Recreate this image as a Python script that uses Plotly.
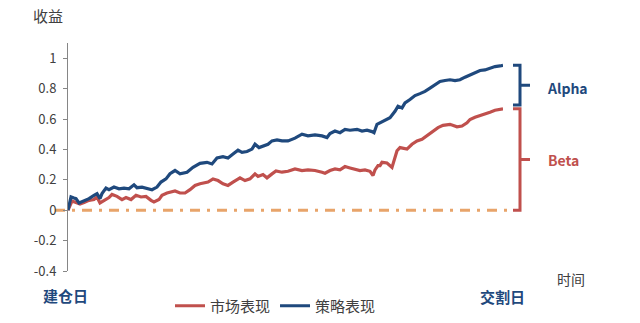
import plotly.graph_objects as go

# ---- data (day index, cumulative return) ----
strategy_days = [0, 1, 3, 6, 8, 11, 14, 16, 21, 26, 29, 32, 34, 38, 41, 46, 51, 56, 61, 66, 69, 74, 79, 84, 89, 93,
                 98, 102, 107, 112, 119, 125, 132, 139, 144, 149, 155, 160, 165, 170, 174, 179, 184, 187, 191, 195,
                 200, 204, 209, 214, 220, 227, 234, 240, 247, 254, 259, 262, 267, 272, 277, 282, 289, 294, 299,
                 304, 306, 309, 312, 317, 322, 327, 330, 334, 337, 342, 347, 352, 357, 362, 367, 372, 377, 382,
                 387, 392, 397, 402, 407, 412, 417, 422, 427, 432, 435]
strategy = [0.0, 0.03, 0.087, 0.08, 0.076, 0.048, 0.055, 0.06, 0.076, 0.098, 0.109, 0.076, 0.109, 0.145, 0.135,
            0.152, 0.141, 0.145, 0.141, 0.167, 0.148, 0.152, 0.145, 0.135, 0.152, 0.185, 0.206, 0.24, 0.261, 0.239,
            0.25, 0.282, 0.308, 0.315, 0.304, 0.343, 0.352, 0.343, 0.369, 0.395, 0.38, 0.386, 0.402, 0.434, 0.412,
            0.423, 0.434, 0.456, 0.462, 0.456, 0.456, 0.474, 0.5, 0.489, 0.495, 0.489, 0.478, 0.504, 0.521, 0.51,
            0.532, 0.526, 0.532, 0.521, 0.526, 0.517, 0.51, 0.565, 0.575, 0.588, 0.608, 0.651, 0.684, 0.673,
            0.706, 0.728, 0.754, 0.767, 0.782, 0.803, 0.825, 0.847, 0.853, 0.858, 0.853, 0.858, 0.875, 0.891,
            0.906, 0.919, 0.923, 0.934, 0.945, 0.949, 0.953]

market_days = [0, 2, 4, 8, 12, 16, 21, 26, 29, 32, 36, 41, 44, 49, 54, 58, 63, 68, 73, 78, 83, 86, 91, 94, 99,
               102, 107, 112, 117, 122, 127, 132, 137, 140, 145, 150, 155, 160, 165, 172, 177, 182, 187, 190,
               195, 199, 204, 208, 214, 220, 227, 234, 240, 247, 254, 257, 262, 267, 272, 277, 282, 287, 292,
               297, 302, 305, 307, 310, 312, 314, 319, 324, 327, 329, 332, 339, 344, 349, 354, 359, 365, 370,
               375, 382, 389, 394, 399, 402, 407, 412, 417, 422, 427, 432, 435]
market = [0.0, 0.03, 0.06, 0.05, 0.04, 0.05, 0.065, 0.07, 0.087, 0.048, 0.065, 0.083, 0.104, 0.091, 0.07, 0.083,
          0.07, 0.098, 0.087, 0.091, 0.065, 0.054, 0.07, 0.098, 0.113, 0.119, 0.126, 0.113, 0.113, 0.135, 0.163,
          0.174, 0.178, 0.185, 0.206, 0.195, 0.174, 0.163, 0.185, 0.213, 0.195, 0.206, 0.239, 0.222, 0.235, 0.213,
          0.239, 0.258, 0.25, 0.256, 0.271, 0.261, 0.265, 0.261, 0.25, 0.243, 0.261, 0.271, 0.265, 0.287, 0.278,
          0.271, 0.261, 0.265, 0.256, 0.228, 0.265, 0.293, 0.293, 0.315, 0.311, 0.282, 0.358, 0.391, 0.412, 0.402,
          0.434, 0.456, 0.467, 0.489, 0.521, 0.543, 0.558, 0.565, 0.549, 0.554, 0.575, 0.597, 0.612, 0.623, 0.63,
          0.645, 0.658, 0.662, 0.667]

y_ticks = [-0.4, -0.2, 0, 0.2, 0.4, 0.6, 0.8, 1]
y_tick_labels = ["-0.4", "-0.2", "0", "0.2", "0.4", "0.6", "0.8", "1"]

series_names = ["市场表现", "策略表现"]
y_title = "收益"
x_title = "时间"
start_label = "建仓日"
end_label = "交割日"

# ---- styling ----
BLUE = "#1F497D"
RED = "#C0504D"
ORANGE = "#E8A46A"
TXT = "#404040"
FONT = "Noto Sans CJK SC"

W, H = 640, 323
ML, MR, MT, MB = 68, 137, 43, 52
PW = W - ML - MR
PH = H - MT - MB


def px_x(p):
    return (p - ML) / PW


def px_y(p):
    return (H - MB - p) / PH


fig = go.Figure()
fig.add_trace(go.Scatter(x=market_days, y=market, mode="lines", name=series_names[0],
                         line=dict(color=RED, width=3.2)))
fig.add_trace(go.Scatter(x=strategy_days, y=strategy, mode="lines", name=series_names[1],
                         line=dict(color=BLUE, width=3.2)))

# zero baseline (dash-dot)
fig.add_shape(type="line", xref="paper", yref="y", x0=px_x(55), x1=px_x(510), y0=0, y1=0,
              line=dict(color=ORANGE, width=3, dash="10px,7px,3px,7px"), layer="below")

s_end = strategy[-1]
m_end = market[-1]
gap = 0.025
bx0, bx1, bx2 = px_x(513), px_x(520), px_x(530)

alpha_mid = (s_end + m_end + gap) / 2
beta_mid = m_end / 2
fig.add_shape(type="path", xref="paper", yref="y",
              path=f"M {bx0},{s_end} L {bx1},{s_end} L {bx1},{m_end + gap} L {bx0},{m_end + gap} "
                   f"M {bx1},{alpha_mid} L {bx2},{alpha_mid}",
              line=dict(color=BLUE, width=3))
fig.add_shape(type="path", xref="paper", yref="y",
              path=f"M {bx0},{m_end} L {bx1},{m_end} L {bx1},0 L {bx0},0 "
                   f"M {bx1},{beta_mid} L {bx2},{beta_mid}",
              line=dict(color=RED, width=3))

annots = [
    dict(text="<b>Alpha</b>", xref="paper", yref="y", x=px_x(567), y=alpha_mid, yshift=-3,
         font=dict(size=14, color=BLUE)),
    dict(text="<b>Beta</b>", xref="paper", yref="y", x=px_x(563), y=beta_mid,
         font=dict(size=14, color=RED)),
    dict(text=y_title, xref="paper", yref="paper", x=px_x(48), y=px_y(15),
         font=dict(size=15, color=TXT)),
    dict(text=x_title, xref="paper", yref="paper", x=px_x(571), y=px_y(279),
         font=dict(size=14, color=TXT)),
    dict(text=f"<b>{start_label}</b>", xref="paper", yref="paper", x=px_x(65), y=px_y(295),
         font=dict(size=15, color=BLUE)),
    dict(text=f"<b>{end_label}</b>", xref="paper", yref="paper", x=px_x(502), y=px_y(296),
         font=dict(size=15, color=BLUE)),
]
for a in annots:
    a.update(showarrow=False, xanchor="center", yanchor="middle")
    fig.add_annotation(**a)

fig.update_layout(
    width=W, height=H,
    margin=dict(l=ML, r=MR, t=MT, b=MB, autoexpand=False),
    paper_bgcolor="white", plot_bgcolor="white",
    font=dict(family=FONT, color=TXT),
    showlegend=True,
    legend=dict(orientation="h", x=px_x(170), y=px_y(306), xanchor="left", yanchor="middle",
                font=dict(size=15, color=TXT), bgcolor="rgba(0,0,0,0)"),
    xaxis=dict(range=[0, 435], showline=False, showticklabels=False, ticks="", showgrid=False,
               zeroline=False),
    yaxis=dict(range=[-0.4, 1.1], tickvals=y_ticks, ticktext=y_tick_labels, showline=True,
               linecolor="#868686", linewidth=1, ticks="outside", ticklen=4, tickcolor="#868686",
               showgrid=False, zeroline=False, tickfont=dict(size=13, color=TXT),
               ticklabelstandoff=4),
)

fig.write_html("out.html")
